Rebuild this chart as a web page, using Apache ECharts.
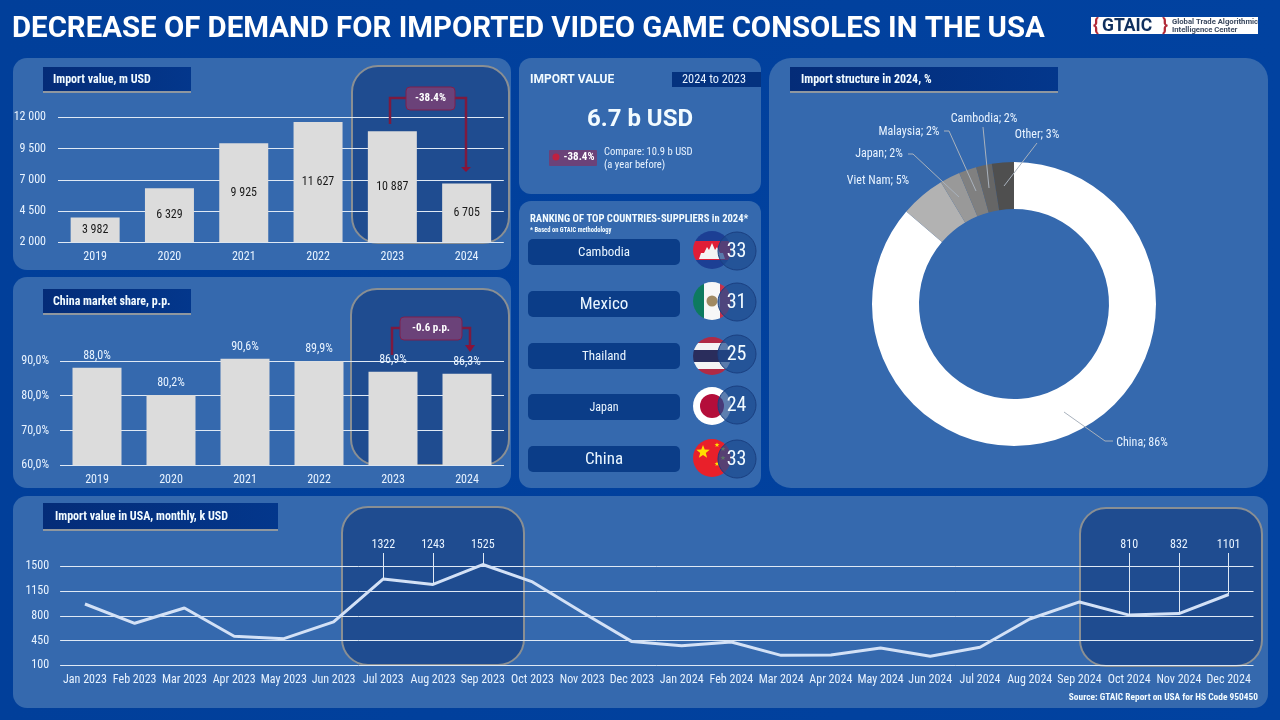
<!DOCTYPE html>
<html>
<head>
<meta charset="utf-8">
<style>html,body{margin:0;padding:0;background:#01409b}#container{width:1280px;height:720px}</style>
<script src="https://cdn.jsdelivr.net/npm/echarts@6/dist/echarts.min.js"></script>
</head>
<body>
<div id="container"></div>
<script>
var years = ["2019", "2020", "2021", "2022", "2023", "2024"];
var importValues = [3982, 6329, 9925, 11627, 10887, 6705];
var importTicks = [2000, 4500, 7000, 9500, 12000];
var shareValues = [88.0, 80.2, 90.6, 89.9, 86.9, 86.3];
var shareTicks = [60, 70, 80, 90];
var months = ["Jan 2023", "Feb 2023", "Mar 2023", "Apr 2023", "May 2023", "Jun 2023", "Jul 2023", "Aug 2023", "Sep 2023", "Oct 2023", "Nov 2023", "Dec 2023",
  "Jan 2024", "Feb 2024", "Mar 2024", "Apr 2024", "May 2024", "Jun 2024", "Jul 2024", "Aug 2024", "Sep 2024", "Oct 2024", "Nov 2024", "Dec 2024"];
var monthlyValues = [967, 694, 911, 510, 477, 713, 1322, 1243, 1525, 1279, 850, 435, 378, 430, 241, 246, 345, 227, 355, 755, 996, 810, 832, 1101];
var monthlyTicks = [100, 450, 800, 1150, 1500];
var calloutMonths = ["Jul 2023", "Aug 2023", "Sep 2023", "Oct 2024", "Nov 2024", "Dec 2024"];
var structureNames = ["China", "Viet Nam", "Japan", "Malaysia", "Cambodia", "Other"];
var structureValues = [86.3, 5.1, 2.3, 2.0, 1.8, 2.5];
var structureColors = ["#ffffff", "#b2b2b2", "#999999", "#808080", "#666666", "#4f4f4f"];
var rankCountries = ["Cambodia", "Mexico", "Thailand", "Japan", "China"];
var rankScores = [33, 31, 25, 24, 33];

var NARROW = '"Liberation Sans Narrow","Roboto Condensed",Roboto,sans-serif';
var ROBOTO = 'Roboto,sans-serif';
var LABEL = "#e8f3ff";
var PANEL = "#3569ae";
var HILITE = "#1f4c90";
var NAVY = "#0b3d88";

var dom = document.getElementById("container");
var myChart = echarts.init(dom);
var g = [];

function rect(x, y, w, h, fill, r, z, stroke, lw) {
  g.push({ type: "rect", z: z, silent: true, shape: { x: x, y: y, width: w, height: h, r: r || 0 },
    style: { fill: fill, stroke: stroke || null, lineWidth: lw || 0 } });
}
function txt(x, y, text, size, weight, color, align, font) {
  // middle alignment sits a little high, nudge by font size
  g.push({ type: "text", z: 100, silent: true, x: x, y: y + size * 0.1, style: { x: 0, y: 0, text: text, fontSize: size, fontWeight: weight || "normal",
    fontFamily: font || NARROW, fill: color || "#fff", textAlign: align || "left", align: align || "left",
    textVerticalAlign: "middle", verticalAlign: "middle" } });
}
function line(points, color, lw, z) {
  g.push({ type: "polyline", z: z || 90, silent: true, shape: { points: points }, style: { stroke: color, lineWidth: lw, fill: null } });
}
function poly(points, fill, z) {
  g.push({ type: "polygon", z: z || 90, silent: true, shape: { points: points }, style: { fill: fill } });
}
function circle(cx, cy, r, fill, z, stroke, lw) {
  g.push({ type: "circle", z: z || 80, silent: true, shape: { cx: cx, cy: cy, r: r }, style: { fill: fill, stroke: stroke || null, lineWidth: lw || 0 } });
}
function star(cx, cy, r, fill, z) {
  var pts = [];
  for (var i = 0; i < 10; i++) {
    var a = -Math.PI / 2 + i * Math.PI / 5, rr = i % 2 ? r * 0.42 : r;
    pts.push([cx + rr * Math.cos(a), cy + rr * Math.sin(a)]);
  }
  poly(pts, fill, z);
}
function bands(dir, list) {
  // hard colour stops so a plain circle reads as a striped flag
  var stops = [], pos = 0;
  list.forEach(function (b) {
    stops.push({ offset: pos, color: b[0] });
    pos += b[1];
    stops.push({ offset: pos, color: b[0] });
  });
  return new echarts.graphic.LinearGradient(0, 0, dir === "h" ? 1 : 0, dir === "h" ? 0 : 1, stops);
}
function tag(x, y, w, h, text, tx) {
  rect(x, y, w, h, new echarts.graphic.LinearGradient(0, 0, 1, 0, [{ offset: 0, color: "#042c78" }, { offset: 1, color: "#03378c" }]), 0, -5);
  rect(x, y + h, w, 2, "#8f979f", 0, -5);
  txt(x + tx, y + h / 2, text, 12, "bold", "#f2fbff");
}
function badge(x, y, w, h, text) {
  rect(x, y, w, h, "#6b4279", 4, 92, "#7f1f4d", 1);
  txt(x + w / 2, y + h / 2 - 1, text, 11, "bold", "#fff", "center");
}

// panels
rect(13, 58, 498, 212, PANEL, 14, -30);
rect(13, 277, 498, 211, PANEL, 14, -30);
rect(519, 58, 242, 136, PANEL, 12, -30);
rect(519, 201, 242, 287, PANEL, 12, -30);
rect(769, 58, 499, 430, PANEL, 22, -30);
rect(13, 496, 1255, 212, PANEL, 14, -30);

// highlights behind the plots
rect(352, 66, 157, 177, HILITE, 26, -20, "#8a8f93", 2);
rect(351, 289, 158, 176, HILITE, 26, -20, "#8a8f93", 2);
rect(342, 507, 182, 158, HILITE, 26, -20, "#8a8f93", 2);
rect(1080, 508, 182, 158, HILITE, 26, -20, "#8a8f93", 2);

// header
txt(12, 26.5, "DECREASE OF DEMAND FOR IMPORTED VIDEO GAME CONSOLES IN THE USA", 29.4, "bold", "#fff", "left", ROBOTO);
rect(1091, 17, 167, 17, "#fff", 0, 50);
txt(1093, 24.5, "{", 18, "bold", "#b02a37", "left", ROBOTO);
txt(1102, 24.5, "GTAIC", 17.5, "bold", "#10305f", "left", ROBOTO);
txt(1162, 24.5, "}", 18, "bold", "#b02a37", "left", ROBOTO);
txt(1172, 21, "Global Trade Algorithmic", 7.7, "bold", "#3c4a60", "left", ROBOTO);
txt(1172, 29, "Intelligence Center", 7.7, "bold", "#3c4a60", "left", ROBOTO);

tag(43, 67, 148, 24, "Import value, m USD", 10);
tag(43, 289, 148, 24, "China market share, p.p.", 10);
tag(43, 503, 235, 26, "Import value in USA, monthly, k USD", 12);
tag(790, 67, 268, 24, "Import structure in 2024, %", 11);

// change annotations
line([[390, 124], [390, 98], [408, 98]], "#7c1a3f", 2.5);
line([[454, 98], [466, 98], [466, 168]], "#7c1a3f", 2.5);
poly([[461, 167], [471, 167], [466, 172]], "#8a1238");
badge(406, 87, 49, 23, "-38.4%");
line([[392, 355], [392, 328], [402, 328]], "#7c1a3f", 2.5);
line([[460, 328], [470, 328], [470, 346]], "#7c1a3f", 2.5);
poly([[465, 345], [475, 345], [470, 352]], "#8a1238");
badge(400, 317, 62, 23, "-0.6 p.p.");

// import value card
txt(530, 79, "IMPORT VALUE", 12, "bold", "#f2fbff", "left", ROBOTO);
rect(672, 72, 89, 15, "#04327f", 0, 50);
txt(714, 78.5, "2024 to 2023", 12.3, "normal", "#e8f3ff", "center");
txt(640, 118, "6.7 b USD", 24, "bold", "#f2fbff", "center", ROBOTO);
rect(549, 150, 48, 16, "#6b4279", 1, 50);
circle(556, 157, 3.5, "#c0203f", 92);
txt(579, 156.5, "-38.4%", 11, "bold", "#fff", "center");
txt(604, 151, "Compare: 10.9 b USD", 10.6, "normal", "#e8f3ff");
txt(604, 164, "(a year before)", 10.6, "normal", "#e8f3ff");

// ranking card
txt(530, 218.5, "RANKING OF TOP COUNTRIES-SUPPLIERS in 2024*", 10.6, "bold", "#f2fbff");
txt(530, 229.5, "* Based on GTAIC methodology", 6.5, "bold", "#f2fbff");
var rankPill = [239, 291, 343, 394, 446];
var rankSize = [13, 17, 13, 12, 17];
var flagY = [250, 301, 356, 406, 458];
var circleY = [251, 302, 354, 405, 459];
rankCountries.forEach(function (c, i) {
  rect(528, rankPill[i], 152, 26, NAVY, 5, 50);
  txt(604, rankPill[i] + 12.5, c, rankSize[i], "normal", "#eaf6ff", "center");
});
circle(712, flagY[0], 19, bands("v", [["#1c3f94", 0.25], ["#e01e37", 0.5], ["#1c3f94", 0.25]]));
poly([[699, 259], [701, 253], [704, 253], [707, 247], [709, 250], [712, 243], [715, 250], [717, 247], [720, 253], [723, 253], [725, 259]], "#f4f4f4", 81);
circle(712, flagY[1], 19, bands("h", [["#0d7a5f", 0.28], ["#f7f7f7", 0.44], ["#c8324b", 0.28]]));
circle(712, flagY[1], 5.5, "#a08a63", 81);
circle(712, flagY[2], 19, bands("v", [["#b02a45", 0.17], ["#f4f4f4", 0.17], ["#2a2d5c", 0.32], ["#f4f4f4", 0.17], ["#b02a45", 0.17]]));
circle(712, flagY[3], 19, "#ffffff");
circle(712, flagY[3], 12, "#b40e3a", 81);
circle(712, flagY[4], 19, "#e9202a");
star(703, 452, 7, "#ffde00", 81);
[[717, 445], [723, 449], [723, 458], [717, 464]].forEach(function (p) { star(p[0], p[1], 2.6, "#ffde00", 81); });
rankScores.forEach(function (s, i) {
  circle(737, circleY[i], 19, "rgba(31,76,144,0.72)", 85, "#1a3f80", 1);
  txt(736.5, circleY[i] - 1, String(s), 20, "normal", "#f2fbff", "center");
});

txt(1258, 696.5, "Source: GTAIC Report on USA for HS Code 950450", 9.4, "bold", "#f2fbff", "right");

function thousand(v) {
  return String(v).replace(/\B(?=(\d{3})+$)/g, " ");
}
function catAxis(idx, data, margin) {
  return { type: "category", gridIndex: idx, data: data, axisLine: { show: false }, axisTick: { show: false }, splitLine: { show: false },
    axisLabel: { color: LABEL, fontSize: 12, fontFamily: NARROW, margin: margin, interval: 0 } };
}
function valAxis(idx, min, max, ticks, margin, fmt) {
  return { type: "value", gridIndex: idx, min: min, max: max, axisLine: { show: false },
    axisTick: { show: false, customValues: ticks },
    splitLine: { show: true, lineStyle: { color: "#dfe9f5", width: 1 } },
    axisLabel: { customValues: ticks, color: LABEL, fontSize: 12, fontFamily: NARROW, margin: margin, formatter: fmt } };
}

var calloutData = calloutMonths.map(function (m) {
  var v = monthlyValues[months.indexOf(m)];
  return [
    { xAxis: m, yAxis: v, label: { formatter: String(v) } },
    { xAxis: m, yAxis: 1688 }
  ];
});

// label spots and leader lines of the donut, in slice order
var pieLabels = [
  { x: 1142, y: 443, pts: [[1064, 412], [1105, 441], [1113, 441]] },
  { x: 878, y: 181, pts: null },
  { x: 879, y: 154, pts: [[908, 154], [913, 154], [959, 197]] },
  { x: 909, y: 132, pts: [[944, 131], [949, 131], [976, 191]] },
  { x: 984, y: 119, pts: [[983, 127], [983, 127], [989, 188]] },
  { x: 1037, y: 135, pts: [[1037, 143], [1037, 143], [1004, 186]] }
];
pieLabels.forEach(function (p) { if (p.pts) line(p.pts, "#a9b2bd", 1, 60); });

option = {
  animation: false,
  backgroundColor: new echarts.graphic.LinearGradient(0, 0, 1, 0, [{ offset: 0, color: "#013f9a" }, { offset: 1, color: "#0142a0" }]),
  graphic: { elements: g },
  grid: [
    { left: 58, top: 117.3, width: 445.8, height: 125 },
    { left: 60, top: 326.1, width: 444, height: 139.2 },
    { left: 60.1, top: 541.55, width: 1193.4, height: 123.75 }
  ],
  xAxis: [catAxis(0, years, 9), catAxis(1, years, 9), catAxis(2, months, 9)],
  yAxis: [
    valAxis(0, 2000, 12000, importTicks, 12, thousand),
    valAxis(1, 60, 100, shareTicks, 11, function (v) { return v.toFixed(1).replace(".", ",") + "%"; }),
    valAxis(2, 100, 1850, monthlyTicks, 11, String)
  ],
  series: [
    { type: "bar", xAxisIndex: 0, yAxisIndex: 0, data: importValues, barWidth: 49, itemStyle: { color: "#dcdcdc" },
      label: { show: true, position: "inside", color: "#1a1a1a", fontSize: 12, fontFamily: NARROW, formatter: function (p) { return thousand(p.value); } } },
    { type: "bar", xAxisIndex: 1, yAxisIndex: 1, data: shareValues, barWidth: 49, itemStyle: { color: "#dcdcdc" },
      label: { show: true, position: "top", distance: 6, color: LABEL, fontSize: 12, fontFamily: NARROW, formatter: function (p) { return p.value.toFixed(1).replace(".", ",") + "%"; } } },
    { type: "line", xAxisIndex: 2, yAxisIndex: 2, data: monthlyValues, symbol: "none", lineStyle: { color: "#d3e1f6", width: 3 },
      markLine: { silent: true, symbol: "none", animation: false, lineStyle: { color: "#dfe9f5", width: 1, type: "solid" },
        label: { position: "end", color: LABEL, fontSize: 12, fontFamily: NARROW, distance: 2 }, data: calloutData } },
    { type: "pie", center: [1014, 304], radius: [95, 142], startAngle: 90, clockwise: true, silent: true,
      data: structureNames.map(function (n, i) { return { name: n, value: structureValues[i], itemStyle: { color: structureColors[i] } }; }),
      label: { color: LABEL, fontSize: 12, fontFamily: NARROW, formatter: function (p) { return p.name + "; " + Math.round(p.value) + "%"; } },
      labelLine: { show: false },
      labelLayout: function (p) {
        var s = pieLabels[p.dataIndex];
        return { x: s.x, y: s.y, align: "center", verticalAlign: "middle" };
      } }
  ]
};
if (option && typeof option === "object") {
  myChart.setOption(option, true);
}
</script>
</body>
</html>
